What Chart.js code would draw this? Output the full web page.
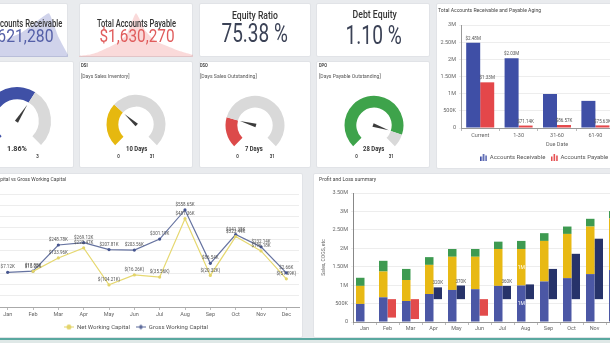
<!DOCTYPE html>
<html><head><meta charset="utf-8">
<script src="https://cdn.jsdelivr.net/npm/chart.js@4.4.0/dist/chart.umd.min.js"></script>
<style>
html,body{margin:0;padding:0}
body{width:610px;height:343px;overflow:hidden;position:relative;background:#e9ebee;font-family:Roboto,"Noto Sans",Arial,sans-serif}
.p{position:absolute;background:#fff;border:1px solid #e1e3e7;box-sizing:border-box;border-radius:2px}
.c,.l{position:absolute;white-space:nowrap;line-height:1}
.c{transform-origin:50% 50%}
.l{transform-origin:0 50%}
.cv{position:absolute}
</style></head><body>
<!-- panels -->
<div class="p" style="left:-46px;top:3px;width:114px;height:54px"></div>
<div class="p" style="left:79px;top:3px;width:114px;height:54px"></div>
<div class="p" style="left:199px;top:3px;width:112px;height:54px"></div>
<div class="p" style="left:316px;top:3px;width:114px;height:54px"></div>
<div class="p" style="left:436px;top:3px;width:190px;height:166px"></div>
<div class="p" style="left:-46px;top:61px;width:120px;height:107px"></div>
<div class="p" style="left:79px;top:61px;width:114px;height:107px"></div>
<div class="p" style="left:199px;top:61px;width:112px;height:107px"></div>
<div class="p" style="left:316px;top:61px;width:114px;height:107px"></div>
<div class="p" style="left:-10px;top:173px;width:313px;height:165px"></div>
<div class="p" style="left:313px;top:173px;width:310px;height:165px"></div>

<!-- sparkline backgrounds -->
<canvas class="cv" id="spark1" width="114" height="54" style="left:-46px;top:3px"></canvas>
<canvas class="cv" id="spark2" width="114" height="54" style="left:79px;top:3px"></canvas>

<!-- gauges -->
<canvas class="cv" id="g1" width="90" height="90" style="left:-28px;top:71px"></canvas>
<canvas class="cv" id="g2" width="80" height="80" style="left:96px;top:80px"></canvas>
<canvas class="cv" id="g3" width="80" height="80" style="left:215px;top:81px"></canvas>
<canvas class="cv" id="g4" width="80" height="80" style="left:334px;top:81px"></canvas>

<!-- charts -->
<canvas class="cv" id="aging" width="246" height="153" style="left:436px;top:17px"></canvas>
<canvas class="cv" id="wc" width="333" height="154" style="left:-30px;top:186px"></canvas>
<canvas class="cv" id="pl" width="318" height="151" style="left:315px;top:186px"></canvas>

<div style="position:absolute;left:0;top:338px;width:610px;height:2px;background:#5aa8a0"></div>
<div style="position:absolute;left:0;top:340px;width:610px;height:3px;background:#dfe8e7"></div>

<!-- texts -->
<div class="c" data-x="17" data-y="24" data-w="90" style="font-size:10px;font-weight:500;color:#333">Total Accounts Receivable</div>
<div class="c" data-x="15" data-y="36" data-w="77" style="font-size:18px;color:#5560a8">$1,621,280</div>
<div class="c" data-x="136" data-y="24" data-w="79" style="font-size:10px;font-weight:500;color:#333">Total Accounts Payable</div>
<div class="c" data-x="136.5" data-y="36" data-w="75" style="font-size:18px;color:#e05c5c">$1,630,270</div>
<div class="c" data-x="255" data-y="16" data-w="46" style="font-size:10.5px;font-weight:500;color:#333">Equity Ratio</div>
<div class="c" data-x="254" data-y="33" data-w="66" style="font-size:25px;color:#3b4256">75.38 %</div>
<div class="c" data-x="374" data-y="15" data-w="44" style="font-size:10.5px;font-weight:500;color:#333">Debt Equity</div>
<div class="c" data-x="373" data-y="35" data-w="56" style="font-size:25px;color:#3b4256">1.10 %</div>

<div class="l" data-x="81" data-y="66" data-w="7" style="font-size:5.5px;font-weight:600;color:#333">DSI</div>
<div class="l" data-x="81" data-y="77" data-w="49" style="font-size:5.5px;color:#555">[Days Sales Inventory]</div>
<div class="l" data-x="200" data-y="66" data-w="8" style="font-size:5.5px;font-weight:600;color:#333">DSO</div>
<div class="l" data-x="200" data-y="77" data-w="57" style="font-size:5.5px;color:#555">[Days Sales Outstanding]</div>
<div class="l" data-x="319" data-y="66" data-w="8" style="font-size:5.5px;font-weight:600;color:#333">DPO</div>
<div class="l" data-x="319" data-y="77" data-w="62" style="font-size:5.5px;color:#555">[Days Payable Outstanding]</div>

<div class="c" data-x="17" data-y="149" data-w="20" style="font-size:6.5px;font-weight:700;color:#333">1.86%</div>
<div class="c" data-x="-4" data-y="157" style="font-size:5.5px;font-weight:600;color:#333">0</div>
<div class="c" data-x="37" data-y="157" style="font-size:5.5px;font-weight:600;color:#333">3</div>
<div class="c" data-x="136" data-y="149" data-w="21" style="font-size:6.5px;font-weight:700;color:#333">10 Days</div>
<div class="c" data-x="118" data-y="157" style="font-size:5.5px;font-weight:600;color:#333">0</div>
<div class="c" data-x="152" data-y="157" style="font-size:5.5px;font-weight:600;color:#333">31</div>
<div class="c" data-x="254" data-y="149" data-w="18" style="font-size:6.5px;font-weight:700;color:#333">7 Days</div>
<div class="c" data-x="237" data-y="157" style="font-size:5.5px;font-weight:600;color:#333">0</div>
<div class="c" data-x="272" data-y="157" style="font-size:5.5px;font-weight:600;color:#333">31</div>
<div class="c" data-x="373" data-y="149" data-w="21" style="font-size:6.5px;font-weight:700;color:#333">28 Days</div>
<div class="c" data-x="356" data-y="157" style="font-size:5.5px;font-weight:600;color:#333">0</div>
<div class="c" data-x="391" data-y="157" style="font-size:5.5px;font-weight:600;color:#333">31</div>

<div class="l" data-x="438" data-y="11" data-w="103" style="font-size:5.5px;color:#444">Total Accounts Receivable and Payable Aging</div>
<div class="l" data-x="-34" data-y="180" data-w="100" style="font-size:5.5px;color:#444">Net Working Capital vs Gross Working Capital</div>
<div class="l" data-x="319" data-y="180" data-w="57" style="font-size:5.5px;color:#444">Profit and Loss summary</div>

<script>
// ---------------- DATA ----------------
const sparkPoints = ['1','2','3','4','5','6','7','8','9','10','11','12','13'];
const receivableTrend = [15, 11, 19, 22, 26, 28, 37, 44, 56, 70, 81, 37, 4];
const payableTrend = [2, 4, 9, 17, 26, 41, 81, 48, 30, 22, 15, 9, 4];

const gaugeValues = [1.86, 10, 7, 28];
const gaugeMaxima = [3, 31, 31, 31];

const agingCategories = ['Current', '1-30', '31-60', '61-90', '90+'];
const agingReceivable = [2480000, 2030000, 990000, 790000, 560000];
const agingPayable = [1330000, 71140, 86570, 75630, 52000];
const agingReceivableShowLabel = [true, true, false, false, false];
const agingPayableShowLabel = [true, true, true, true, false];
const agingTicks = [0, 500000, 1000000, 1500000, 2000000, 2500000, 3000000];

const months = ['Jan','Feb','Mar','Apr','May','Jun','Jul','Aug','Sep','Oct','Nov','Dec'];
const netWorkingCapital = [null, 15.20, 133.96, 222.47, -104.21, -16.26, -35.56, 481.36, -20.32, 323.44, 196.18, -51.09]; // $K
const grossWorkingCapital = [7.12, 17.85, 248.78, 269.12, 207.81, 203.56, 301.19, 558.65, 86.54, 341.38, 232.14, 2.66]; // $K

const plCogs = [490000, 670000, 570000, 760000, 870000, 890000, 980000, 990000, 1100000, 1190000, 1300000, 1410000];
const plGrossProfit = [490000, 700000, 570000, 790000, 900000, 880000, 1000000, 990000, 1100000, 1200000, 1290000, 1400000];
const plExpenses = [220000, 290000, 300000, 210000, 210000, 210000, 200000, 220000, 210000, 200000, 210000, 200000];
const plNetFrom = [620000, 620000, 620000, 620000, 620000, 620000, 620000, 620000, 620000, 620000, 620000, 620000];
const plNetTo = [null, 120000, 80000, 940000, 990000, 170000, 980000, 1020000, 1440000, 1850000, 2260000, 2660000];
const plNetShowLabel = [false, false, false, true, true, false, true, false, false, false, false, false];
const plStackShowLabel = [false, false, false, false, false, false, false, true, false, false, false, false];

// ---------------- TEXT FITTING ----------------
document.querySelectorAll('.c,.l').forEach(el => {
  const w = el.offsetWidth, h = el.offsetHeight;
  const x = parseFloat(el.dataset.x), y = parseFloat(el.dataset.y);
  const tw = el.dataset.w ? parseFloat(el.dataset.w) : w * 0.8;
  const s = tw / w;
  if (el.classList.contains('c')) { el.style.left = (x - w / 2) + 'px'; }
  else { el.style.left = x + 'px'; }
  el.style.top = (y - h / 2) + 'px';
  el.style.transform = 'scaleX(' + s + ')';
});

// ---------------- CHART DEFAULTS ----------------
Chart.defaults.font.family = 'Roboto';
Chart.defaults.font.size = 5.5;
Chart.defaults.color = '#666';
Chart.defaults.animation = false;
Chart.defaults.devicePixelRatio = 1;
Chart.defaults.plugins.tooltip.enabled = false;

function fmtMoney(v) {
  if (Math.abs(v) >= 1e6) return '$' + (v / 1e6).toFixed(2) + 'M';
  return '$' + (v / 1e3).toFixed(2) + 'K';
}
function fmtAxis(v) {
  if (v === 0) return '0';
  if (v < 1e6) return (v / 1e3) + 'K';
  const m = v / 1e6;
  return (Number.isInteger(m) ? m : m.toFixed(2)) + 'M';
}

const valueLabels = {
  id: 'valueLabels',
  afterDatasetsDraw(chart) {
    const ctx = chart.ctx;
    chart.data.datasets.forEach((ds, di) => {
      if (!ds.valueLabels) return;
      const meta = chart.getDatasetMeta(di);
      meta.data.forEach((el, i) => {
        const t = ds.valueLabels[i];
        if (!t || el.skip) return;
        ctx.save();
        ctx.font = (ds.valueLabelWeight || '400') + ' ' + (ds.valueLabelSize || 5) + 'px Roboto';
        ctx.fillStyle = ds.valueLabelColor || '#555';
        ctx.textAlign = 'center';
        ctx.textBaseline = 'middle';
        let y = ds.valueLabelPos === 'center' ? (el.y + el.base) / 2 : Math.min(el.y, el.base !== undefined ? el.base : el.y) - (ds.valueLabelOffset || 4);
        ctx.fillText(t, el.x + (ds.valueLabelDx || 0), y);
        ctx.restore();
      });
    });
  }
};

// ---------------- SPARKLINES ----------------
function spark(id, data, color) {
  new Chart(document.getElementById(id), {
    type: 'line',
    data: { labels: sparkPoints, datasets: [{ data, fill: 'origin', backgroundColor: color, borderWidth: 0, pointRadius: 0, tension: 0.15 }] },
    options: {
      responsive: false, events: [],
      layout: { padding: 0 },
      plugins: { legend: { display: false } },
      scales: { x: { display: false, offset: false }, y: { display: false, min: 0, max: 100 } }
    }
  });
}
spark('spark1', receivableTrend, 'rgba(72,86,176,0.26)');
spark('spark2', payableTrend, 'rgba(230,88,88,0.22)');

// ---------------- GAUGES ----------------
const needle = {
  id: 'needle',
  afterDatasetsDraw(chart) {
    const arc = chart.getDatasetMeta(0).data[0];
    const ctx = chart.ctx;
    const a = arc.endAngle, L = arc.innerRadius * 0.88;
    const px = Math.cos(a + Math.PI / 2), py = Math.sin(a + Math.PI / 2);
    ctx.save();
    ctx.fillStyle = '#3c3c3c';
    ctx.beginPath();
    ctx.moveTo(arc.x + Math.cos(a) * L, arc.y + Math.sin(a) * L);
    ctx.lineTo(arc.x + px * 1.8 - Math.cos(a) * 1, arc.y + py * 1.8 - Math.sin(a) * 1);
    ctx.lineTo(arc.x - px * 1.8 - Math.cos(a) * 1, arc.y - py * 1.8 - Math.sin(a) * 1);
    ctx.closePath();
    ctx.fill();
    ctx.restore();
  }
};
function gauge(id, value, max, color, radius, cutout) {
  new Chart(document.getElementById(id), {
    type: 'doughnut',
    data: { datasets: [{ data: [value, max - value], backgroundColor: [color, '#d9d9d9'], borderWidth: 0 }] },
    options: {
      responsive: false, events: [],
      rotation: -135, circumference: 270, radius: radius, cutout: cutout,
      plugins: { legend: { display: false } }
    },
    plugins: [needle]
  });
}
gauge('g1', gaugeValues[0], gaugeMaxima[0], '#3f50a6', 34, '64%');
gauge('g2', gaugeValues[1], gaugeMaxima[1], '#e6b80f', 29.5, '60%');
gauge('g3', gaugeValues[2], gaugeMaxima[2], '#dc4a4a', 29.5, '60%');
gauge('g4', gaugeValues[3], gaugeMaxima[3], '#3ea34b', 29.5, '60%');

// ---------------- ICONS ----------------
function barIcon(color) {
  const c = document.createElement('canvas'); c.width = 7; c.height = 7;
  const x = c.getContext('2d'); x.fillStyle = color;
  x.fillRect(0, 3, 1.5, 4); x.fillRect(2.6, 0, 1.5, 7); x.fillRect(5.2, 2, 1.5, 5);
  return c;
}
function lineIcon(color, diamond) {
  const c = document.createElement('canvas'); c.width = 10; c.height = 7;
  const x = c.getContext('2d'); x.strokeStyle = color; x.fillStyle = color; x.lineWidth = 1;
  x.beginPath(); x.moveTo(0, 3.5); x.lineTo(10, 3.5); x.stroke();
  x.beginPath();
  if (diamond) { x.moveTo(5, 1); x.lineTo(7.5, 3.5); x.lineTo(5, 6); x.lineTo(2.5, 3.5); x.closePath(); }
  else x.arc(5, 3.5, 2.5, 0, Math.PI * 2);
  x.fill();
  return c;
}

// ---------------- AGING BAR CHART ----------------
const agingIcons = [barIcon('#3f4fa6'), barIcon('#e4474a')];
new Chart(document.getElementById('aging'), {
  type: 'bar',
  data: {
    labels: agingCategories,
    datasets: [
      { label: 'Accounts Receivable', data: agingReceivable, backgroundColor: '#3f4fa6', categoryPercentage: 0.73, barPercentage: 1,
        valueLabels: agingReceivable.map((v, i) => agingReceivableShowLabel[i] ? fmtMoney(v) : null), valueLabelSize: 4.5 },
      { label: 'Accounts Payable', data: agingPayable, backgroundColor: '#e4474a', categoryPercentage: 0.73, barPercentage: 1,
        valueLabels: agingPayable.map((v, i) => agingPayableShowLabel[i] ? fmtMoney(v) : null), valueLabelSize: 4.5 }
    ]
  },
  options: {
    responsive: false, events: [],
    layout: { padding: { top: 8, right: 29, bottom: 0, left: 0 } },
    scales: {
      x: {
        grid: { drawOnChartArea: false, tickLength: 3, color: '#bbb' },
        border: { color: '#999' },
        ticks: { padding: 1, color: '#666' },
        title: { display: true, text: 'Due Date', color: '#666', font: { size: 5.5 }, padding: { top: 1, bottom: 0 } },
        afterFit(s) { s.height = 20; }
      },
      y: {
        min: 0, max: 3000000,
        afterBuildTicks(s) { s.ticks = agingTicks.map(v => ({ value: v })); },
        ticks: { callback: v => fmtAxis(v), padding: 3, color: '#666' },
        grid: { color: '#ededed', tickLength: 2 },
        border: { color: '#999' },
        afterFit(s) { s.width = 25; }
      }
    },
    plugins: {
      legend: {
        position: 'bottom',
        labels: {
          usePointStyle: true, boxHeight: 6, padding: 6, color: '#555', font: { size: 6 },
          generateLabels(chart) {
            const items = Chart.defaults.plugins.legend.labels.generateLabels(chart);
            items.forEach((it, i) => { it.pointStyle = agingIcons[i]; });
            return items;
          }
        }
      }
    }
  },
  plugins: [valueLabels]
});

// ---------------- WORKING CAPITAL LINE CHART ----------------
const fmtK = v => v >= 0 ? '$' + v.toFixed(2) + 'K' : '$(' + (-v).toFixed(2) + 'K)';
const wcIcons = [lineIcon('#e3d46a', false), lineIcon('#5d6b9b', true)];
new Chart(document.getElementById('wc'), {
  type: 'line',
  data: {
    labels: months,
    datasets: [
      { label: 'Net Working Capital', data: netWorkingCapital, borderColor: '#e6d870', backgroundColor: '#e3d46a',
        borderWidth: 1.2, pointRadius: 1.6, pointBorderWidth: 0, tension: 0,
        valueLabels: netWorkingCapital.map(v => v === null ? null : fmtK(v)), valueLabelSize: 4.5, valueLabelOffset: 5 },
      { label: 'Gross Working Capital', data: grossWorkingCapital, borderColor: '#6673a0', backgroundColor: '#46558f',
        borderWidth: 1.2, pointRadius: 1.6, pointBorderWidth: 0, tension: 0,
        valueLabels: grossWorkingCapital.map(v => fmtK(v)), valueLabelSize: 4.5, valueLabelOffset: 5 }
    ]
  },
  options: {
    responsive: false, events: [],
    layout: { padding: { top: 8, right: 1, bottom: 0, left: 0 } },
    scales: {
      x: {
        offset: true,
        grid: { drawOnChartArea: false, tickLength: 3, color: '#bbb' },
        border: { color: '#aaa' },
        ticks: { padding: 1, color: '#666' },
        afterFit(s) { s.height = 11; }
      },
      y: {
        min: -300, max: 700,
        ticks: { stepSize: 100, callback: v => '$' + v + 'K' },
        grid: { color: '#ededed' },
        border: { display: false },
        afterFit(s) { s.width = 25; }
      }
    },
    plugins: {
      legend: {
        position: 'bottom',
        labels: {
          usePointStyle: true, pointStyleWidth: 10, boxHeight: 6, padding: 6, color: '#555', font: { size: 6 },
          generateLabels(chart) {
            const items = Chart.defaults.plugins.legend.labels.generateLabels(chart);
            items.forEach((it, i) => { it.pointStyle = wcIcons[i]; });
            return items;
          }
        }
      }
    }
  },
  plugins: [valueLabels]
});

// ---------------- PROFIT AND LOSS ----------------
new Chart(document.getElementById('pl'), {
  type: 'bar',
  data: {
    labels: months,
    datasets: [
      { label: 'Cost of Goods Sold', data: plCogs, backgroundColor: '#4b57a5', stack: 'a', categoryPercentage: 0.74, barPercentage: 1,
        valueLabels: plCogs.map((v, i) => plStackShowLabel[i] ? Math.round(v / 1e6) + 'M' : null), valueLabelPos: 'center', valueLabelColor: '#fff', valueLabelSize: 5 },
      { label: 'Gross Profit', data: plGrossProfit, backgroundColor: '#e8b914', stack: 'a', categoryPercentage: 0.74, barPercentage: 1,
        valueLabels: plGrossProfit.map((v, i) => plStackShowLabel[i] ? Math.round(v / 1e6) + 'M' : null), valueLabelPos: 'center', valueLabelColor: '#fff', valueLabelSize: 5 },
      { label: 'Operating Expenses', data: plExpenses, backgroundColor: '#3e9a51', stack: 'a', categoryPercentage: 0.74, barPercentage: 1 },
      { label: 'Net Profit', data: plNetTo.map((t, i) => t === null ? null : [plNetFrom[i], t]),
        backgroundColor: plNetTo.map((t, i) => (t !== null && t < plNetFrom[i]) ? '#e24b4b' : '#27336a'),
        stack: 'b', categoryPercentage: 0.74, barPercentage: 1,
        valueLabels: plNetTo.map((t, i) => plNetShowLabel[i] ? Math.round((t - plNetFrom[i]) / 1e3) + 'K' : null), valueLabelSize: 4.5, valueLabelOffset: 4 }
    ]
  },
  options: {
    responsive: false, events: [],
    layout: { padding: { top: 7, right: 4, bottom: 0, left: 0 } },
    scales: {
      x: {
        stacked: true,
        grid: { drawOnChartArea: false, tickLength: 3, color: '#bbb' },
        border: { color: '#999' },
        ticks: { padding: 0, color: '#666' },
        afterFit(s) { s.height = 15; }
      },
      y: {
        stacked: true, min: 0, max: 3500000,
        ticks: { stepSize: 500000, callback: v => fmtAxis(v), padding: 3, color: '#666' },
        grid: { color: '#ededed', tickLength: 2 },
        border: { color: '#888' },
        title: { display: true, text: 'Sales, COGS, etc', color: '#666', font: { size: 5 }, padding: { top: 6, bottom: 0 } },
        afterFit(s) { s.width = 38; }
      }
    },
    plugins: { legend: { display: false } }
  },
  plugins: [valueLabels]
});
</script>
</body></html>
